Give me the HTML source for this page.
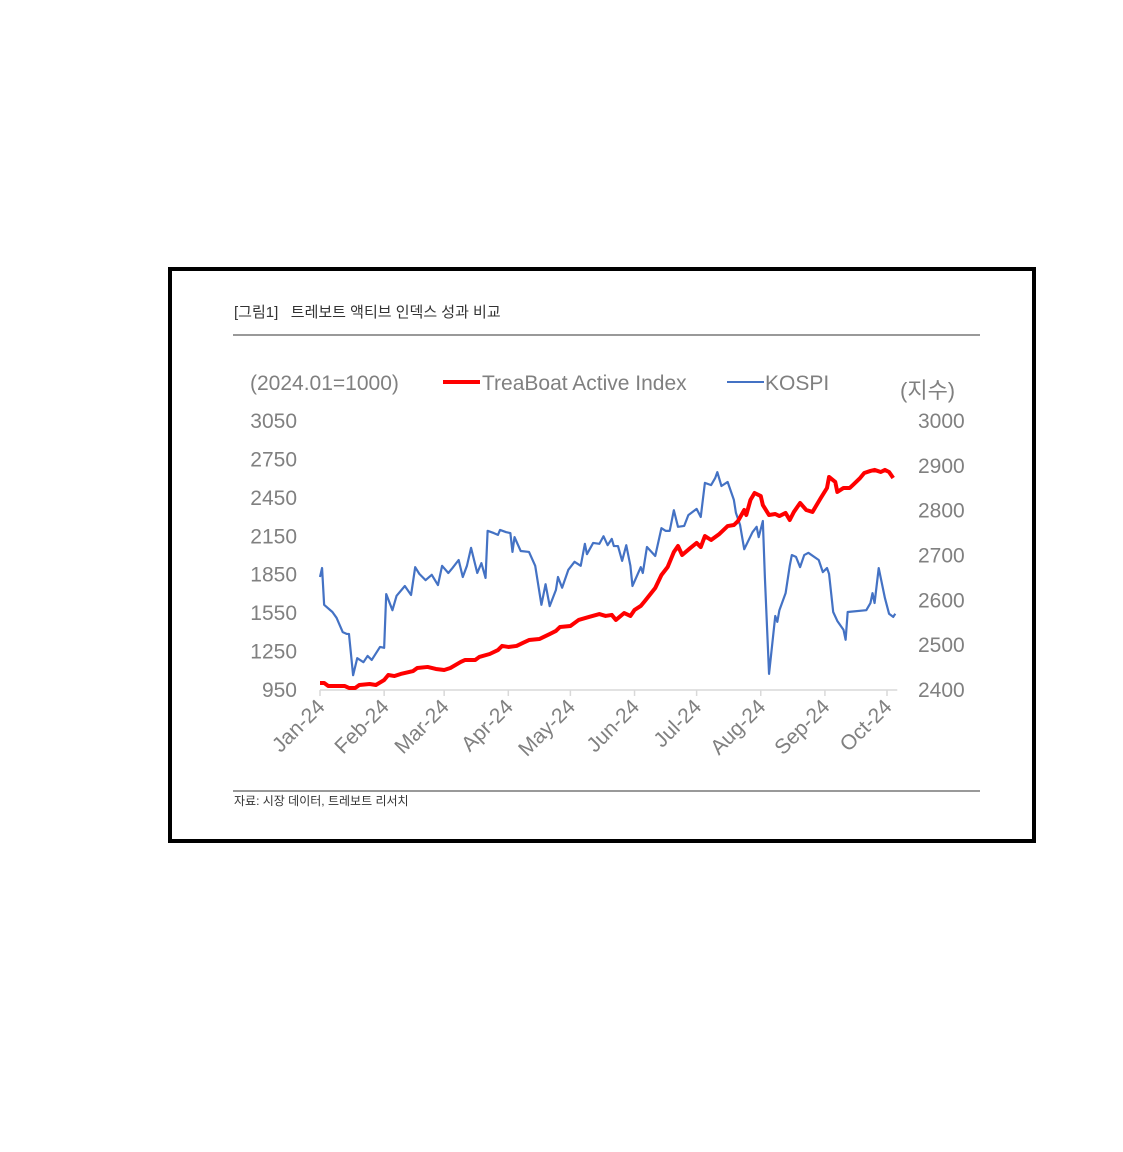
<!DOCTYPE html>
<html><head><meta charset="utf-8">
<style>
body{margin:0;background:#fff;width:1123px;height:1152px;overflow:hidden;font-family:"Liberation Sans","Noto Sans CJK KR",sans-serif;}
svg{position:absolute;left:0;top:0}
</style></head>
<body>
<svg width="1123" height="1152">
<rect x="170" y="269" width="864" height="572" fill="none" stroke="#000" stroke-width="4"/>
<text x="234" y="317" font-size="15" fill="#333" font-family="Liberation Sans, Noto Sans CJK KR, sans-serif">[그림1]&#160;&#160;&#160;트레보트 액티브 인덱스 성과 비교</text>
<line x1="233" y1="335" x2="980" y2="335" stroke="#333" stroke-width="1"/>
<line x1="233" y1="791" x2="980" y2="791" stroke="#333" stroke-width="1"/>
<text x="234" y="805" font-size="12" fill="#333" font-family="Liberation Sans, Noto Sans CJK KR, sans-serif">자료: 시장 데이터, 트레보트 리서치</text>
<text x="250" y="390" font-size="21" fill="#808080">(2024.01=1000)</text>
<line x1="443" y1="382" x2="480" y2="382" stroke="#ff0000" stroke-width="4"/>
<text x="482" y="390" font-size="21" fill="#808080">TreaBoat Active Index</text>
<line x1="727" y1="382" x2="764" y2="382" stroke="#4472c4" stroke-width="2"/>
<text x="765" y="390" font-size="21" fill="#808080">KOSPI</text>
<text x="900" y="398" font-size="22" fill="#808080" font-family="Liberation Sans, Noto Sans CJK KR, sans-serif">(지수)</text>
<g id="axes"></g>
<g id="series"></g>
</svg>
<script>
const monthLabels=["Jan-24","Feb-24","Mar-24","Apr-24","May-24","Jun-24","Jul-24","Aug-24","Sep-24","Oct-24"];
const monthDays=[0,31,60,91,121,152,182,213,244,274];
const leftTicks=[950,1250,1550,1850,2150,2450,2750,3050];
const rightTicks=[2400,2500,2600,2700,2800,2900,3000];
const treaDays=[0,2,4,8,12,14,17,19,24,27,31,33,36,39,45,47,52,56,60,63,68,70,75,77,82,86,88,91,95,98,101,106,111,114,116,121,125,130,135,138,141,143,147,150,152,155,157,162,165,168,171,173,175,179,182,184,186,189,193,197,200,202,205,206,208,210,213,214,217,220,222,225,227,229,232,235,238,242,245,246,249,250,253,256,258,261,263,266,268,271,273,275,277];
const treaValues=[1005,1005,981,981,981,966,966,989,997,989,1028,1067,1059,1075,1098,1122,1130,1114,1106,1122,1169,1184,1184,1208,1231,1262,1294,1286,1294,1317,1340,1348,1387,1411,1442,1450,1497,1520,1543,1528,1536,1497,1551,1528,1575,1606,1645,1746,1848,1910,2027,2074,2004,2059,2098,2066,2152,2121,2168,2230,2238,2269,2355,2316,2433,2488,2464,2394,2316,2324,2308,2332,2277,2340,2410,2355,2340,2449,2527,2613,2574,2496,2527,2527,2558,2605,2644,2660,2668,2652,2668,2652,2605];
const kospiDays=[0,1,2,6,8,11,13,14,16,18,21,23,25,29,31,32,35,37,41,44,46,48,51,54,57,59,62,64,67,69,71,73,76,78,80,81,84,86,87,90,92,93,94,97,101,104,107,109,111,114,115,117,120,123,126,128,129,132,135,137,139,141,142,144,146,148,150,151,155,156,158,162,165,167,169,171,173,176,178,182,184,186,189,191,192,194,197,200,201,203,205,209,211,212,214,215,217,220,221,222,225,227,228,230,232,234,236,241,243,245,246,248,250,253,254,255,264,266,267,268,270,273,275,277,278];
const kospiValues=[2652,2672,2590,2574,2561,2529,2525,2525,2433,2471,2462,2476,2467,2496,2494,2614,2578,2610,2632,2612,2674,2659,2645,2657,2634,2677,2661,2672,2690,2652,2677,2717,2661,2683,2650,2755,2750,2746,2757,2752,2750,2708,2741,2710,2708,2677,2590,2636,2587,2623,2652,2628,2668,2686,2677,2726,2703,2728,2726,2743,2723,2737,2721,2721,2688,2723,2677,2632,2674,2661,2719,2699,2761,2755,2755,2801,2764,2766,2790,2804,2786,2862,2857,2873,2886,2855,2864,2824,2795,2768,2714,2752,2764,2741,2777,2650,2436,2565,2552,2578,2616,2677,2701,2697,2674,2701,2706,2690,2663,2672,2659,2574,2554,2534,2512,2574,2578,2594,2616,2594,2672,2605,2570,2563,2570];

const NS="http://www.w3.org/2000/svg";
const x0=320,x1=887,yB=690,yT=421;
const xS=d=>x0+d*(x1-x0)/274;
const yL=v=>yB-(v-950)*(yB-yT)/2100;
const yR=v=>yB-(v-2400)*(yB-yT)/600;
const axes=document.getElementById('axes'),series=document.getElementById('series');
function mk(tag,attrs,parent){const e=document.createElementNS(NS,tag);for(const k in attrs)e.setAttribute(k,attrs[k]);parent.appendChild(e);return e;}
const base=mk('line',{x1:x0,y1:yB,x2:xS(278)+2,y2:yB,stroke:'#d9d9d9','stroke-width':1.5},axes);


leftTicks.forEach(v=>{const t=mk('text',{x:297,y:yL(v)+7,'font-size':21,fill:'#808080','text-anchor':'end'},axes);t.textContent=v;

});
rightTicks.forEach(v=>{const t=mk('text',{x:918,y:yR(v)+7,'font-size':21,fill:'#808080'},axes);t.textContent=v;

});
monthDays.forEach((d,i)=>{const x=xS(d);
const tk=mk('line',{x1:x,y1:yB,x2:x,y2:yB+6,stroke:'#d9d9d9','stroke-width':1.5},axes);


const t=mk('text',{x:x+6,y:yB+18,'font-size':21,fill:'#808080','text-anchor':'end',transform:`rotate(-45 ${x+6} ${yB+18})`},axes);t.textContent=monthLabels[i];

});
const kp=mk('polyline',{points:kospiDays.map((d,i)=>xS(d)+','+yR(kospiValues[i])).join(' '),fill:'none',stroke:'#4472c4','stroke-width':2.2,'stroke-linejoin':'round'},series);


const tr=mk('polyline',{points:treaDays.map((d,i)=>xS(d)+','+yL(treaValues[i])).join(' '),fill:'none',stroke:'#ff0000','stroke-width':4,'stroke-linejoin':'round'},series);


</script>
</body></html>
